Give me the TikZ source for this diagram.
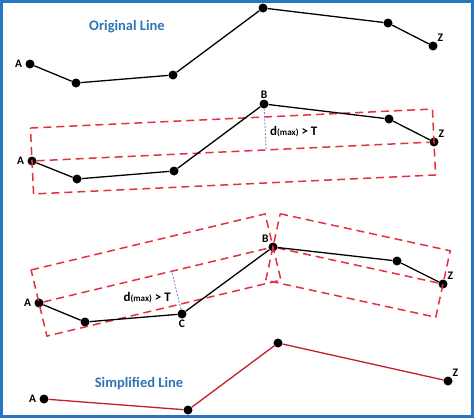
\documentclass[tikz,border=0pt]{standalone}
\usepackage{fontspec}
\setmainfont{Carlito}
\usetikzlibrary{calc}
\definecolor{frameblue}{RGB}{38,118,196}
\definecolor{titleblue}{RGB}{46,117,182}
\definecolor{bandred}{RGB}{228,48,64}
\definecolor{simpred}{RGB}{196,30,40}
\definecolor{perpviolet}{RGB}{150,130,195}
\tikzset{
  vtx/.style   = {circle, fill=black, inner sep=0pt, minimum size=9pt},
  lbl/.style   = {font=\fontsize{11.5}{13}\selectfont\bfseries, inner sep=1pt},
  seg/.style   = {line width=1.3pt, black},
  simp/.style  = {line width=1.3pt, simpred},
  band/.style  = {bandred, line width=1.5pt, dash pattern=on 8pt off 5pt},
  perp/.style  = {perpviolet, line width=0.9pt, dash pattern=on 2pt off 1.5pt},
  ttl/.style   = {font=\fontsize{14.5}{16}\selectfont\bfseries, text=titleblue},
  dlbl/.style  = {font=\fontsize{13}{15}\selectfont\bfseries, inner sep=1pt},
}

\begin{document}
\begin{tikzpicture}[x=1pt, y=-1pt]
  \useasboundingbox (0,0) rectangle (474,418);
  \draw[frameblue, line width=3pt] (1.5,1.5) rectangle (472.5,416.5);

  % original line
  \node[ttl] (t1) at (127,27) {Original Line};
  \node[vtx, label={[lbl, label distance=2pt]left:A}] (a1) at (30,64) {};
  \node[vtx] (p1) at (76,83) {};
  \node[vtx] (q1) at (173,75) {};
  \node[vtx] (b1) at (263,8) {};
  \node[vtx] (r1) at (388,23) {};
  \node[vtx, label={[lbl]above right:Z}] (z1) at (433,46) {};
  \draw[seg] (a1) -- (p1) -- (q1) -- (b1) -- (r1) -- (z1);

  % first pass: A--Z corridor
  \node[vtx, label={[lbl, label distance=2pt]left:A}] (a2) at (32,161) {};
  \node[vtx] (p2) at (77,179) {};
  \node[vtx] (q2) at (174,171) {};
  \node[vtx, label={[lbl]above:B}] (b2) at (264,104) {};
  \node[vtx] (r2) at (389,119) {};
  \node[vtx, label={[lbl]above right:Z}] (z2) at (434,142) {};
  \draw[band] ($(a2)!33pt!90:(z2)$) -- ($(z2)!33pt!-90:(a2)$)
              -- ($(z2)!33pt!90:(a2)$) -- ($(a2)!33pt!-90:(z2)$) -- cycle;
  \draw[band] (a2) -- (z2);
  \draw[perp] (b2) -- ($(a2)!(b2)!(z2)$);
  \node[dlbl, anchor=west] (d2) at (269,132) {d{\fontsize{9}{10}\selectfont(max)} > T};
  \draw[seg] (a2) -- (p2) -- (q2) -- (b2) -- (r2) -- (z2);

  % second pass: A--B and B--Z corridors
  \node[vtx, label={[lbl, label distance=2pt]left:A}] (a3) at (39,303) {};
  \node[vtx] (p3) at (85,322) {};
  \node[vtx, label={[lbl]below:C}] (c3) at (182,314) {};
  \node[vtx, label={[lbl]above left:B}] (b3) at (273,247) {};
  \node[vtx] (r3) at (397,261) {};
  \node[vtx, label={[lbl]above right:Z}] (z3) at (443,284) {};
  \draw[band] ($(a3)!34pt!90:(b3)$) -- ($(b3)!34pt!-90:(a3)$)
              -- ($(b3)!34pt!90:(a3)$) -- ($(a3)!34pt!-90:(b3)$) -- cycle;
  \draw[band] ($(b3)!34pt!90:(z3)$) -- ($(z3)!34pt!-90:(b3)$)
              -- ($(z3)!34pt!90:(b3)$) -- ($(b3)!34pt!-90:(z3)$) -- cycle;
  \draw[band] (a3) -- (b3);
  \draw[band] (b3) -- (z3);
  \draw[perp] (c3) -- ($(a3)!(c3)!(b3)$);
  \node[dlbl, anchor=east] (d3) at (172,298) {d{\fontsize{9}{10}\selectfont(max)} > T};
  \draw[seg] (a3) -- (p3) -- (c3) -- (b3) -- (r3) -- (z3);

  % simplified line
  \node[ttl] (t4) at (139,384) {Simplified Line};
  \node[vtx, label={[lbl, label distance=2pt]left:A}] (a4) at (44,399) {};
  \node[vtx] (c4) at (188,410) {};
  \node[vtx] (b4) at (278,343) {};
  \node[vtx, label={[lbl]above right:Z}] (z4) at (448,381) {};
  \draw[simp] (a4) -- (c4) -- (b4) -- (z4);
\end{tikzpicture}
\end{document}
